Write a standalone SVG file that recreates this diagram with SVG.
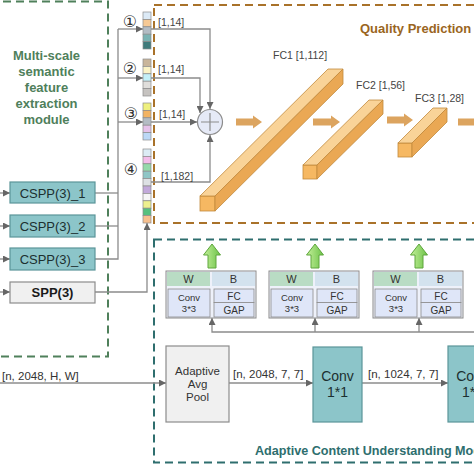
<svg xmlns="http://www.w3.org/2000/svg" width="474" height="474" viewBox="0 0 474 474">
<defs>
<marker id="ah" viewBox="0 0 10 10" refX="10" refY="5" markerWidth="7" markerHeight="7" orient="auto" markerUnits="userSpaceOnUse"><path d="M0,0 L10,5 L0,10 z" fill="#666"/></marker>
<linearGradient id="gg" x1="0" y1="0" x2="1" y2="0"><stop offset="0" stop-color="#c4f09a"/><stop offset="1" stop-color="#6cc248"/></linearGradient>
<style>
.ln{fill:none;stroke:#8c8c8c;stroke-width:1.3}
.t{font-family:"Liberation Sans",Arial,sans-serif;fill:#333}
.lbl{font-family:"Liberation Sans",Arial,sans-serif;font-size:10.5px;fill:#444}
.cell{stroke:#8c8c8c;stroke-width:0.7}
.teal{fill:#8cc5c9;stroke:#5b9599;stroke-width:1.2}
.gray{fill:#f0f0f0;stroke:#8c8c8c;stroke-width:1.2}
.front{fill:#f6b862;stroke:#c28a3e;stroke-width:0.8}
.top{fill:#f9d398;stroke:#c28a3e;stroke-width:0.8}
.side{fill:#eaa854;stroke:#c28a3e;stroke-width:0.8}
.oarr{fill:#dca45f}
.garr{fill:url(#gg);stroke:#5ea63c;stroke-width:1}
.wb{fill:#eef1fa;stroke:#8c8c8c;stroke-width:1}
.inner{fill:#dfe6f8;stroke:#8c8c8c;stroke-width:0.8}
.num{font-family:"DejaVu Sans","Noto Sans CJK SC",sans-serif;font-size:16px;fill:#333}
</style>
</defs>
<rect width="474" height="474" fill="#fff"/>

<!-- dashed module frames -->
<g id="frames" fill="none" stroke-width="2" stroke-dasharray="8 5">
<rect x="-10" y="1.5" width="118" height="355" stroke="#4f805b"/>
<rect x="154" y="5" width="340" height="218" stroke="#a9722a"/>
<rect x="154" y="239.5" width="340" height="223" stroke="#2e6e6e"/>
</g>
<text class="t" x="46.5" y="60" font-size="13" font-weight="bold" text-anchor="middle" style="fill:#4f805b">Multi-scale</text>
<text class="t" x="46.5" y="76" font-size="13" font-weight="bold" text-anchor="middle" style="fill:#4f805b">semantic</text>
<text class="t" x="46.5" y="92" font-size="13" font-weight="bold" text-anchor="middle" style="fill:#4f805b">feature</text>
<text class="t" x="46.5" y="108" font-size="13" font-weight="bold" text-anchor="middle" style="fill:#4f805b">extraction</text>
<text class="t" x="46.5" y="124" font-size="13" font-weight="bold" text-anchor="middle" style="fill:#4f805b">module</text>
<text class="t" x="360" y="33" font-size="13" font-weight="bold" style="fill:#9a6522">Quality Prediction</text>
<text class="t" x="255" y="455" font-size="12.6" font-weight="bold" style="fill:#2e6e6e">Adaptive Content Understanding Module</text>

<!-- connectors -->
<g id="connectors">
<line class="ln" x1="-5" y1="193" x2="10" y2="193" marker-end="url(#ah)"/>
<line class="ln" x1="-5" y1="226" x2="10" y2="226" marker-end="url(#ah)"/>
<line class="ln" x1="-5" y1="259" x2="10" y2="259" marker-end="url(#ah)"/>
<line class="ln" x1="-5" y1="292" x2="10" y2="292" marker-end="url(#ah)"/>
<polyline class="ln" points="95,193 118,193"/>
<polyline class="ln" points="95,226 118,226"/>
<polyline class="ln" points="95,259 118,259 118,29"/>
<line class="ln" x1="118" y1="29" x2="143" y2="29" marker-end="url(#ah)"/>
<line class="ln" x1="118" y1="78" x2="143" y2="78" marker-end="url(#ah)"/>
<line class="ln" x1="118" y1="122" x2="143" y2="122" marker-end="url(#ah)"/>
<polyline class="ln" points="95,292 147,292 147,223" marker-end="url(#ah)"/>
<polyline class="ln" points="151,29 210,29 210,109" marker-end="url(#ah)"/>
<polyline class="ln" points="151,78 200,78 200,113" marker-end="url(#ah)"/>
<line class="ln" x1="151" y1="122" x2="197" y2="122" marker-end="url(#ah)"/>
<polyline class="ln" points="151,182 210,182 210,135" marker-end="url(#ah)"/>
<text class="lbl" x="158" y="26">[1,14]</text>
<text class="lbl" x="158" y="73">[1,14]</text>
<text class="lbl" x="159" y="118">[1,14]</text>
<text class="lbl" x="161" y="180">[1,182]</text>
<!-- W/B feed line -->
<polyline class="ln" points="480,332 212,332 212,318" marker-end="url(#ah)"/>
<line class="ln" x1="315" y1="332" x2="315" y2="318" marker-end="url(#ah)"/>
<line class="ln" x1="419" y1="332" x2="419" y2="318" marker-end="url(#ah)"/>
<!-- bottom row -->
<line class="ln" x1="0" y1="383" x2="166" y2="383" marker-end="url(#ah)"/>
<line class="ln" x1="229" y1="383" x2="313" y2="383" marker-end="url(#ah)"/>
<line class="ln" x1="362" y1="383" x2="448" y2="383" marker-end="url(#ah)"/>
<text class="t" x="2" y="380" font-size="11.5">[n, 2048, H, W]</text>
<text class="t" x="233" y="378" font-size="11.5">[n, 2048, 7, 7]</text>
<text class="t" x="368" y="378" font-size="11.5">[n, 1024, 7, 7]</text>
<!-- orange flow arrows -->
<path class="oarr" d="M236,118.5 L253,118.5 L253,115.5 L262,122 L253,128.5 L253,125.5 L236,125.5 Z"/>
<path class="oarr" d="M313,118.5 L331,118.5 L331,115.5 L340,122 L331,128.5 L331,125.5 L313,125.5 Z"/>
<path class="oarr" d="M387,116.5 L404,116.5 L404,113.5 L413,120 L404,126.5 L404,123.5 L387,123.5 Z"/>
<path class="oarr" d="M458,118.5 L476,118.5 L476,115.5 L485,122 L476,128.5 L476,125.5 L458,125.5 Z"/>
<!-- green arrows -->
<path class="garr" d="M212,244 L220.5,255 L216,255 L216,268 L208,268 L208,255 L203.5,255 Z"/>
<path class="garr" d="M315,244 L323.5,255 L319,255 L319,268 L311,268 L311,255 L306.5,255 Z"/>
<path class="garr" d="M419,244 L427.5,255 L423,255 L423,268 L415,268 L415,255 L410.5,255 Z"/>
</g>

<!-- circled numbers -->
<text class="num" x="130" y="26.5" text-anchor="middle">①</text>
<text class="num" x="130" y="73.5" text-anchor="middle">②</text>
<text class="num" x="131" y="118.5" text-anchor="middle">③</text>
<text class="num" x="131" y="174.5" text-anchor="middle">④</text>

<!-- feature vectors -->
<g id="vec1">
<rect class="cell" x="143" y="12" width="8" height="7.4" fill="#dceaf6"/>
<rect class="cell" x="143" y="19.4" width="8" height="7.4" fill="#f6c995"/>
<rect class="cell" x="143" y="26.8" width="8" height="7.4" fill="#b3bcc4"/>
<rect class="cell" x="143" y="34.2" width="8" height="7.4" fill="#7ab3b3"/>
<rect class="cell" x="143" y="41.6" width="8" height="7.4" fill="#3f7b7b"/>
</g>
<g id="vec2">
<rect class="cell" x="143" y="59" width="8" height="7.4" fill="#c9b59b"/>
<rect class="cell" x="143" y="66.4" width="8" height="7.4" fill="#fbf3c6"/>
<rect class="cell" x="143" y="73.8" width="8" height="7.4" fill="#c4f0f8"/>
<rect class="cell" x="143" y="81.2" width="8" height="7.4" fill="#e0dedb"/>
<rect class="cell" x="143" y="88.6" width="8" height="7.4" fill="#c6c3c0"/>
</g>
<g id="vec3">
<rect class="cell" x="143" y="103" width="8" height="7.4" fill="#eef07e"/>
<rect class="cell" x="143" y="110.4" width="8" height="7.4" fill="#f2b363"/>
<rect class="cell" x="143" y="117.8" width="8" height="7.4" fill="#b4bcc4"/>
<rect class="cell" x="143" y="125.2" width="8" height="7.4" fill="#e6c2ea"/>
<rect class="cell" x="143" y="132.6" width="8" height="7.4" fill="#bcd8f6"/>
</g>
<g id="vec4">
<rect class="cell" x="143" y="149" width="8" height="7.4" fill="#dcecf5"/>
<rect class="cell" x="143" y="156.4" width="8" height="7.4" fill="#f3bdea"/>
<rect class="cell" x="143" y="163.8" width="8" height="7.4" fill="#94d9aa"/>
<rect class="cell" x="143" y="171.2" width="8" height="7.4" fill="#8fc6c6"/>
<rect class="cell" x="143" y="178.6" width="8" height="7.4" fill="#dde1e4"/>
<rect class="cell" x="143" y="186" width="8" height="7.4" fill="#c2a9da"/>
<rect class="cell" x="143" y="193.4" width="8" height="7.4" fill="#f6f6f6"/>
<rect class="cell" x="143" y="200.8" width="8" height="7.4" fill="#eef08e"/>
<rect class="cell" x="143" y="208.2" width="8" height="7.4" fill="#56c07e"/>
<rect class="cell" x="143" y="215.6" width="8" height="7.4" fill="#f7c08f"/>
</g>

<g id="sum">
<circle cx="210" cy="122" r="12.5" fill="#e6eaf7" stroke="#8c8c8c" stroke-width="1.2"/>
<path d="M201,122 H219 M210,113 V131" stroke="#8c8c8c" stroke-width="1.2"/>
</g>

<!-- CSPP / SPP nodes -->
<g id="cspp1"><rect class="teal" x="10" y="182" width="85" height="21"/><text class="t" x="52.5" y="197.5" font-size="13" text-anchor="middle" style="fill:#1c3030">CSPP(3)_1</text></g>
<g id="cspp2"><rect class="teal" x="10" y="215" width="85" height="22"/><text class="t" x="52.5" y="231" font-size="13" text-anchor="middle" style="fill:#1c3030">CSPP(3)_2</text></g>
<g id="cspp3"><rect class="teal" x="10" y="248" width="85" height="22"/><text class="t" x="52.5" y="264" font-size="13" text-anchor="middle" style="fill:#1c3030">CSPP(3)_3</text></g>
<g id="spp"><rect class="gray" x="10" y="282" width="85" height="21"/><text class="t" x="52.5" y="297" font-size="13" font-weight="bold" text-anchor="middle" style="fill:#1a1a1a">SPP(3)</text></g>

<!-- FC bars -->
<g id="fc1">
<rect class="front" x="200" y="196" width="15" height="15"/>
<polygon class="top" points="200,196 215,196 343,69 328,69"/>
<polygon class="side" points="215,196 215,211 343,84 343,69"/>
<text class="lbl" x="273" y="59">FC1 [1,112]</text>
</g>
<g id="fc2">
<rect class="front" x="303" y="165" width="14" height="14"/>
<polygon class="top" points="303,165 317,165 383,100 369,100"/>
<polygon class="side" points="317,165 317,179 383,114 383,100"/>
<text class="lbl" x="356" y="89">FC2 [1,56]</text>
</g>
<g id="fc3">
<rect class="front" x="398" y="143" width="14" height="14"/>
<polygon class="top" points="398,143 412,143 447,108 433,108"/>
<polygon class="side" points="412,143 412,157 447,122 447,108"/>
<text class="lbl" x="415" y="102">FC3 [1,28]</text>
</g>

<!-- W/B blocks -->
<g id="wb1">
<rect class="wb" x="166" y="271" width="90" height="47"/>
<rect x="167" y="272" width="43" height="14" fill="#b9dcc4"/>
<rect x="212" y="272" width="43" height="14" fill="#d3e2ee"/>
<text class="t" x="188.5" y="283" font-size="11" text-anchor="middle">W</text>
<text class="t" x="233.5" y="283" font-size="11" text-anchor="middle">B</text>
<rect class="inner" x="168" y="289" width="42" height="28"/>
<text class="t" x="189" y="301" font-size="9.5" text-anchor="middle">Conv</text>
<text class="t" x="189" y="312" font-size="9.5" text-anchor="middle">3*3</text>
<rect class="inner" x="214" y="289" width="40" height="13.5"/>
<text class="t" x="234" y="299.5" font-size="10" text-anchor="middle">FC</text>
<rect class="inner" x="214" y="302.5" width="40" height="14.5"/>
<text class="t" x="234" y="313.5" font-size="10" text-anchor="middle">GAP</text>
</g>
<g id="wb2">
<rect class="wb" x="269" y="271" width="90" height="47"/>
<rect x="270" y="272" width="43" height="14" fill="#b9dcc4"/>
<rect x="315" y="272" width="43" height="14" fill="#d3e2ee"/>
<text class="t" x="291.5" y="283" font-size="11" text-anchor="middle">W</text>
<text class="t" x="336.5" y="283" font-size="11" text-anchor="middle">B</text>
<rect class="inner" x="271" y="289" width="42" height="28"/>
<text class="t" x="292" y="301" font-size="9.5" text-anchor="middle">Conv</text>
<text class="t" x="292" y="312" font-size="9.5" text-anchor="middle">3*3</text>
<rect class="inner" x="317" y="289" width="40" height="13.5"/>
<text class="t" x="337" y="299.5" font-size="10" text-anchor="middle">FC</text>
<rect class="inner" x="317" y="302.5" width="40" height="14.5"/>
<text class="t" x="337" y="313.5" font-size="10" text-anchor="middle">GAP</text>
</g>
<g id="wb3">
<rect class="wb" x="373" y="271" width="90" height="47"/>
<rect x="374" y="272" width="43" height="14" fill="#b9dcc4"/>
<rect x="419" y="272" width="43" height="14" fill="#d3e2ee"/>
<text class="t" x="395.5" y="283" font-size="11" text-anchor="middle">W</text>
<text class="t" x="440.5" y="283" font-size="11" text-anchor="middle">B</text>
<rect class="inner" x="375" y="289" width="42" height="28"/>
<text class="t" x="396" y="301" font-size="9.5" text-anchor="middle">Conv</text>
<text class="t" x="396" y="312" font-size="9.5" text-anchor="middle">3*3</text>
<rect class="inner" x="421" y="289" width="40" height="13.5"/>
<text class="t" x="441" y="299.5" font-size="10" text-anchor="middle">FC</text>
<rect class="inner" x="421" y="302.5" width="40" height="14.5"/>
<text class="t" x="441" y="313.5" font-size="10" text-anchor="middle">GAP</text>
</g>

<!-- bottom nodes -->
<g id="pool">
<rect class="gray" x="166" y="346" width="63" height="76"/>
<text class="t" x="197.5" y="375" font-size="11.5" text-anchor="middle">Adaptive</text>
<text class="t" x="197.5" y="388" font-size="11.5" text-anchor="middle">Avg</text>
<text class="t" x="197.5" y="401" font-size="11.5" text-anchor="middle">Pool</text>
</g>
<g id="conv1">
<rect class="teal" x="313" y="347" width="49" height="75"/>
<text class="t" x="337.5" y="381" font-size="14" text-anchor="middle" style="fill:#1c3030">Conv</text>
<text class="t" x="337.5" y="397" font-size="14" text-anchor="middle" style="fill:#1c3030">1*1</text>
</g>
<g id="conv2">
<rect class="teal" x="448" y="346" width="49" height="76"/>
<text class="t" x="472.5" y="381" font-size="14" text-anchor="middle" style="fill:#1c3030">Conv</text>
<text class="t" x="472.5" y="397" font-size="14" text-anchor="middle" style="fill:#1c3030">1*1</text>
</g>
</svg>
